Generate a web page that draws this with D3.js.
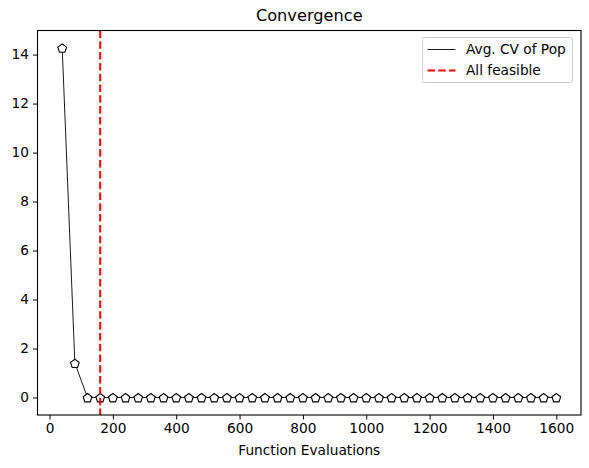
<!DOCTYPE html>
<html>
<head>
<meta charset="utf-8">
<script src="https://cdn.jsdelivr.net/npm/d3@7"></script>
<style>
  body { margin: 0; background: #fff; }
  text { font-family: "DejaVu Sans", sans-serif; }
</style>
</head>
<body>
<svg id="chart"></svg>
<script>
/* data */
var evals = [40, 80, 120, 160, 200, 240, 280, 320, 360, 400, 440, 480, 520, 560, 600, 640, 680, 720, 760, 800,
             840, 880, 920, 960, 1000, 1040, 1080, 1120, 1160, 1200, 1240, 1280, 1320, 1360, 1400, 1440, 1480, 1520, 1560, 1600];
var avgCV = [14.27, 1.4, 0, 0, 0, 0, 0, 0, 0, 0, 0, 0, 0, 0, 0, 0, 0, 0, 0, 0,
             0, 0, 0, 0, 0, 0, 0, 0, 0, 0, 0, 0, 0, 0, 0, 0, 0, 0, 0, 0];
var feasibleAt = 160;
var xTicks = [0, 200, 400, 600, 800, 1000, 1200, 1400, 1600];
var yTicks = [0, 2, 4, 6, 8, 10, 12, 14];
var seriesNames = ["Avg. CV of Pop", "All feasible"];

var width = 589, height = 468,
    margin = { top: 30.5, right: 8, bottom: 53, left: 37.5 };
var innerWidth = width - margin.left - margin.right,
    innerHeight = height - margin.top - margin.bottom;
var fs = "13.7px",
    dash = "7.5,3.3";

var svg = d3.select("#chart").attr("width", width).attr("height", height);
var g = svg.append("g").attr("transform", "translate(" + margin.left + "," + margin.top + ")");

// matplotlib style 5% margins
var xPad = (d3.max(evals) - d3.min(evals)) * 0.05,
    yPad = (d3.max(avgCV) - d3.min(avgCV)) * 0.05;
var xScale = d3.scaleLinear().domain([d3.min(evals) - xPad, d3.max(evals) + xPad]).range([0, innerWidth]);
var yScale = d3.scaleLinear().domain([d3.min(avgCV) - yPad, d3.max(avgCV) + yPad]).range([innerHeight, 0]);

/* axes */
var xAxis = d3.axisBottom(xScale).tickValues(xTicks).tickSize(4.5).tickPadding(4).tickFormat(d3.format("d"));
var yAxis = d3.axisLeft(yScale).tickValues(yTicks).tickSize(4.5).tickPadding(4).tickFormat(d3.format("d"));

var xg = g.append("g").attr("transform", "translate(0," + innerHeight + ")").call(xAxis);
var yg = g.append("g").call(yAxis);
[xg, yg].forEach(function (a) {
  a.attr("font-size", null).attr("font-family", null);
  a.select(".domain").remove();
  a.selectAll("text").style("font-size", fs).attr("fill", "#000");
  a.selectAll("line").attr("stroke", "#000").attr("stroke-width", 1);
});

/* series line + markers */
var line = d3.line()
  .x(function (d, i) { return xScale(evals[i]); })
  .y(function (d) { return yScale(d); });

g.append("path")
  .datum(avgCV)
  .attr("d", line)
  .attr("fill", "none")
  .attr("stroke", "#000")
  .attr("stroke-width", 0.9);

// pentagon marker, pointing up
function pentPath(r) {
  var pts = [];
  for (var k = 0; k < 5; k++) {
    var a = -Math.PI / 2 + k * 2 * Math.PI / 5;
    pts.push([r * Math.cos(a), r * Math.sin(a)]);
  }
  return "M" + pts.join("L") + "Z";
}

g.selectAll(".marker")
  .data(avgCV)
  .enter().append("path")
  .attr("class", "marker")
  .attr("d", pentPath(4.6))
  .attr("transform", function (d, i) { return "translate(" + xScale(evals[i]) + "," + (yScale(d) + 0.6) + ")"; })
  .attr("fill", "#fff")
  .attr("stroke", "#000")
  .attr("stroke-width", 1.1);

/* all-feasible line */
g.append("line")
  .attr("x1", xScale(feasibleAt)).attr("x2", xScale(feasibleAt))
  .attr("y1", 0).attr("y2", innerHeight)
  .attr("stroke", "red")
  .attr("stroke-width", 2)
  .attr("stroke-dasharray", dash);

/* frame */
g.append("rect")
  .attr("width", innerWidth).attr("height", innerHeight)
  .attr("fill", "none").attr("stroke", "#000").attr("stroke-width", 1.1);

/* titles */
svg.append("text")
  .attr("x", margin.left + innerWidth / 2).attr("y", 21)
  .attr("text-anchor", "middle").style("font-size", "16.2px")
  .text("Convergence");

svg.append("text")
  .attr("x", margin.left + innerWidth / 2).attr("y", 454.5)
  .attr("text-anchor", "middle").style("font-size", fs)
  .text("Function Evaluations");

/* legend */
var lg = svg.append("g").attr("transform", "translate(422.5,37.5)");
lg.append("rect")
  .attr("width", 150).attr("height", 45).attr("rx", 2)
  .attr("fill", "#fff").attr("fill-opacity", 0.8)
  .attr("stroke", "#ccc").attr("stroke-width", 1);

var items = lg.selectAll(".item")
  .data(seriesNames)
  .enter().append("g")
  .attr("transform", function (d, i) { return "translate(0," + (12 + i * 21) + ")"; });

items.append("line")
  .attr("x1", 5).attr("x2", 33)
  .attr("stroke", function (d, i) { return i ? "red" : "#000"; })
  .attr("stroke-width", function (d, i) { return i ? 2 : 0.9; })
  .attr("stroke-dasharray", function (d, i) { return i ? dash : null; });

items.append("text")
  .attr("x", 43.5).attr("dy", "0.35em")
  .style("font-size", fs)
  .text(function (d) { return d; });
</script>
</body>
</html>
